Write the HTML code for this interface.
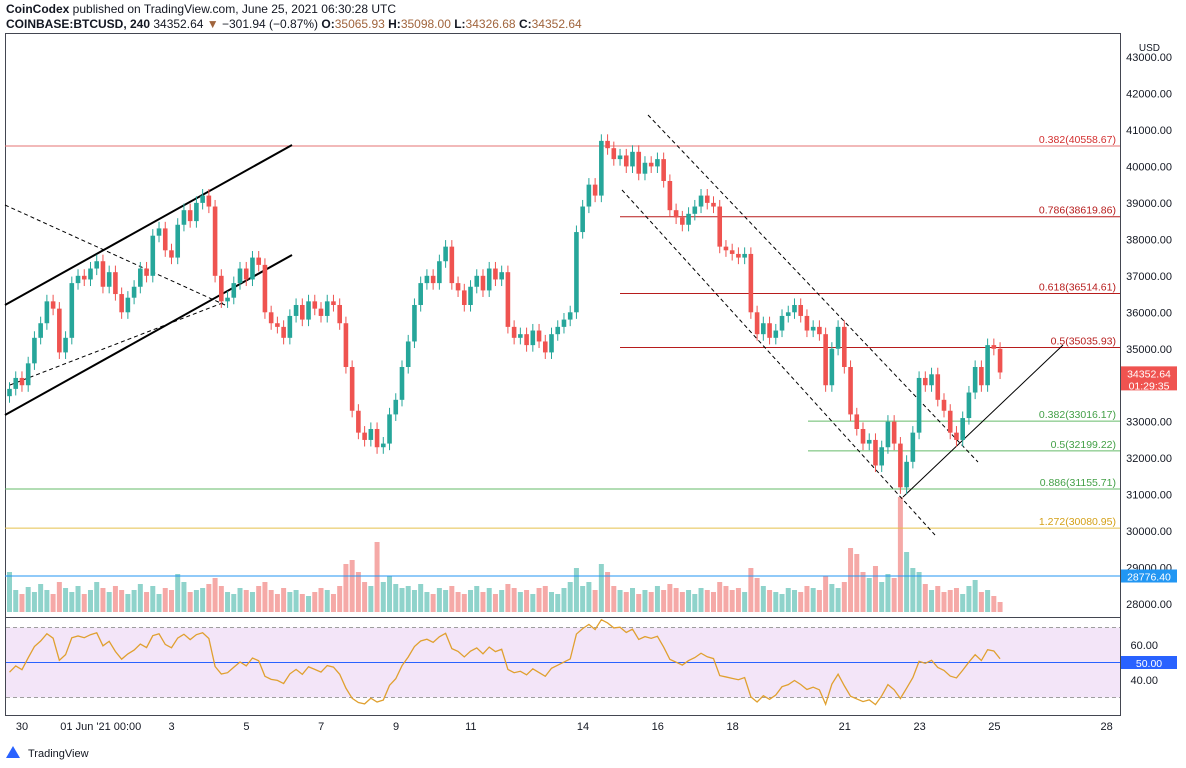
<!DOCTYPE html>
<html><head><meta charset="utf-8"><style>
body{margin:0;background:#fff;font-family:"Liberation Sans",sans-serif;}
#wrap{position:relative;width:1186px;height:768px;overflow:hidden;}
.hdr{position:absolute;left:6px;font-size:12px;color:#131722;white-space:nowrap;}
svg text{font-family:"Liberation Sans",sans-serif;}
</style></head><body>
<div id="wrap">
<div class="hdr" style="top:2px"><b>CoinCodex</b> published on TradingView.com, June 25, 2021 06:30:28 UTC</div>
<div class="hdr" style="top:17px"><b>COINBASE:BTCUSD, 240</b> 34352.64 <span style="color:#a0643c">▼</span> −301.94 (−0.87%) <b>O:</b><span style="color:#a0643c">35065.93</span> <b>H:</b><span style="color:#a0643c">35098.00</span> <b>L:</b><span style="color:#a0643c">34326.68</span> <b>C:</b><span style="color:#a0643c">34352.64</span></div>
<svg id="chart" width="1186" height="768" style="position:absolute;left:0;top:0"></svg>
</div>
<script>
const closes=[33900,34200,34000,34600,35300,35700,36300,36100,34900,35300,
36800,37000,36900,37200,37400,36700,37100,36500,36000,36400,
36700,37200,37000,38100,38300,37700,37500,38400,38800,38500,
39000,39200,38900,37000,36300,36400,36800,37200,36900,37500,
37300,36000,35700,35600,35300,35900,36200,35800,36300,36100,
35900,36300,36200,35700,34500,33300,32700,32500,32800,32300,
32400,33200,33600,34500,35200,36200,36800,37000,36800,37400,
37800,36800,36600,36200,36700,37000,36600,37200,36900,37100,
35600,35300,35400,35100,35500,35200,34900,35400,35600,35800,
36000,38200,38900,39500,39200,40700,40500,40200,40300,40000,
40400,39800,40100,40000,40200,39600,38800,38600,38400,38700,
38900,39200,39000,38900,37800,37700,37600,37500,37600,36000,
35400,35700,35300,35500,35900,36000,36200,35900,35500,35600,
35400,34000,35000,35600,34500,33200,32800,32400,32500,31800,
32300,33000,32400,31200,31900,32700,34200,34000,34300,33600,
33300,32700,32500,33100,33800,34500,34000,35100,35000,34350];
const volumes=[40,22,18,25,20,28,22,18,30,24,
20,26,18,22,30,24,20,26,22,18,
22,28,20,26,18,24,22,38,30,20,
22,24,28,34,26,20,18,24,22,20,
26,30,22,18,24,20,22,18,16,20,
24,22,18,26,48,52,40,30,26,70,
30,36,28,24,26,22,28,20,18,24,
22,26,20,18,22,26,20,24,18,22,
28,24,20,22,18,24,26,20,18,24,
30,44,26,30,22,48,40,26,22,20,
24,18,22,20,26,22,28,24,20,22,
18,24,22,20,30,26,22,24,20,44,
34,26,22,20,18,24,22,20,26,24,
22,36,28,24,30,64,58,40,34,46,
30,38,34,115,60,44,40,28,22,26,
20,22,24,18,26,32,20,22,16,10];
const fibLevels=[40558.67,38619.86,36514.61,35035.93,33016.17,32199.22,31155.71,30080.95];
const fibNames=["0.382","0.786","0.618","0.5","0.382","0.5","0.886","1.272"];
const priceTicks=[43000,42000,41000,40000,39000,38000,37000,36000,35000,34000,33000,32000,31000,30000,29000,28000];
const dateLabels=["30","01 Jun '21  00:00","3","5","7","9","11","14","16","18","21","23","25","28"];
const dateDays=[0,2,4,6,8,10,12,15,17,19,22,24,26,29];

const svg=document.getElementById('chart');const NS='http://www.w3.org/2000/svg';
function el(t,a,p){const e=document.createElementNS(NS,t);for(const k in a)e.setAttribute(k,a[k]);(p||svg).appendChild(e);return e;}
const yP=p=>57+(43000-p)*0.03647;
const xI=i=>9.5+i*6.23;
const xD=d=>22+d*37.4;
const yR=r=>662.5-(r-50)*1.75;
const UP='#26a69a',DN='#ef5350';

let r=el('rect',{x:5.5,y:33.5,width:1115,height:682,fill:'none',stroke:'#434651','stroke-width':1});

el('line',{x1:5,x2:1120,y1:617.5,y2:617.5,stroke:'#434651'});
r=el('rect',{x:6,y:yR(70),width:1114,height:yR(30)-yR(70),fill:'#f3e5f8'});

[70,30].forEach(v=>el('line',{x1:6,x2:1120,y1:yR(v),y2:yR(v),stroke:'#9e9e9e','stroke-dasharray':'4,3'}));
el('line',{x1:6,x2:1120,y1:yR(50),y2:yR(50),stroke:'#2962ff'});

volumes.forEach((v,i)=>{const o=i?closes[i-1]:33700;const up=closes[i]>=o;
const b=el('rect',{x:xI(i)-2.5,y:612-v,width:5,height:v,fill:up?'#8fd3cb':'#f5a9a7'});

});

const fibColors=['#e57373','#b71c1c','#b71c1c','#b71c1c','#66bb6a','#66bb6a','#66bb6a','#e5c04c'];
const fibStart=[5,620,620,620,808,808,5,5];
const fibText=['#d32f2f','#b71c1c','#b71c1c','#b71c1c','#43a047','#43a047','#43a047','#d4a017'];
fibLevels.forEach((p,k)=>{const y=yP(p);
const l=el('line',{x1:fibStart[k],x2:1120,y1:y,y2:y,stroke:fibColors[k],'stroke-width':1});


const t=el('text',{x:1116,y:y-3,'text-anchor':'end','font-size':10.5,fill:fibText[k]});
t.textContent=fibNames[k]+'('+p.toFixed(2)+')';

});
const bl=el('line',{x1:5,x2:1120,y1:576,y2:576,stroke:'#2196f3'});


const tl=[[5,305,292,145,'#000',2,''],[5,415,292,255,'#000',2,''],[10,385,225,302,'#000',1,'4,3'],[5,205,225,305,'#000',1,'4,3'],
[622,190,935,535,'#000',1,'4,3'],[648,115,978,462,'#000',1,'4,3'],[903,497,1063,345,'#000',1,'']];
tl.forEach(a=>{const l=el('line',{x1:a[0],y1:a[1],x2:a[2],y2:a[3],stroke:a[4],'stroke-width':a[5],'stroke-dasharray':a[6]});

});

closes.forEach((c,i)=>{const o=i?closes[i-1]:33700;const up=c>=o;const col=up?UP:DN;const x=xI(i);
const hi=Math.max(o,c)+180,lo=Math.min(o,c)-180;
const w=el('line',{x1:x,x2:x,y1:yP(hi),y2:yP(lo),stroke:col});


const y1=yP(Math.max(o,c)),y2=yP(Math.min(o,c));
const b=el('rect',{x:x-2.3,y:y1,width:4.6,height:Math.max(1,y2-y1),fill:col});

});

// RSI (Wilder 14, seeded with neutral averages)
let ag=160,al=200;const rsi=[];
for(let i=0;i<closes.length;i++){const d=i?closes[i]-closes[i-1]:0;const g=Math.max(d,0),ls=Math.max(-d,0);
ag=(ag*13+g)/14;al=(al*13+ls)/14;rsi.push(al===0?100:100-100/(1+ag/al));}
const rl=el('polyline',{points:rsi.map((v,i)=>xI(i)+','+yR(v)).join(' '),fill:'none',stroke:'#e0a030','stroke-width':1.3});


priceTicks.forEach(p=>{const t=el('text',{x:1172,y:yP(p)+4,'text-anchor':'end','font-size':11,fill:'#131722'});
t.textContent=p.toFixed(2);

});
let u=el('text',{x:1160,y:51,'text-anchor':'end','font-size':10,fill:'#131722'});u.textContent='USD';
[[60,'60.00'],[40,'40.00']].forEach(a=>{const t=el('text',{x:1158,y:yR(a[0])+4,'text-anchor':'end','font-size':11,fill:'#131722'});t.textContent=a[1];
});
function badge(y,h,col,lines,name){const g=el('g',{});
el('rect',{x:1121,y:y-h/2,width:56,height:h,fill:col},g);
lines.forEach((s,k)=>{const t=el('text',{x:1149,y:y-h/2+11+k*12,'text-anchor':'middle','font-size':10.5,fill:'#fff'},g);t.textContent=s;});}
badge(yP(34352.64)+6,24,'#ef5350',['34352.64','01:29:35'],'last-price-badge');
badge(576,13,'#2196f3',['28776.40'],'level-badge');
badge(yR(50),13,'#2962ff',['50.00'],'rsi-badge');

dateLabels.forEach((s,k)=>{const t=el('text',{x:xD(dateDays[k]),y:730,'text-anchor':'middle','font-size':11,fill:'#131722'});
if(k===1){t.setAttribute('x',xD(dateDays[k])+4);}
t.textContent=s;

});
const lg=el('text',{x:28,y:757,'font-size':11,fill:'#131722'});lg.textContent='TradingView';

el('path',{d:'M6 758 L13 746 L20 758 Z',fill:'#2962ff'});
</script></body></html>
